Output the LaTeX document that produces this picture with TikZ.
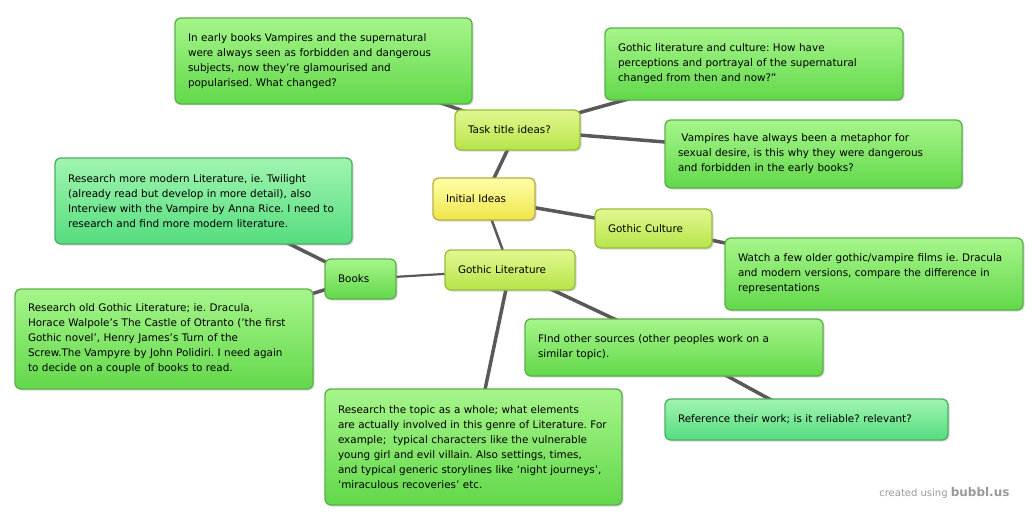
\documentclass[tikz,border=0pt]{standalone}
\usepackage{fontspec}
\setmainfont{DejaVu Sans}
\usetikzlibrary{shadows}
\definecolor{gtop}{HTML}{A6F58A}\definecolor{gbot}{HTML}{62D84A}\definecolor{gbd}{HTML}{5CB04A}
\definecolor{mtop}{HTML}{A0F5B0}\definecolor{mbot}{HTML}{55DC7E}\definecolor{mbd}{HTML}{4CAE66}
\definecolor{ltop}{HTML}{E2F890}\definecolor{lbot}{HTML}{B6E448}\definecolor{lbd}{HTML}{98BC40}
\definecolor{ytop}{HTML}{FFFFA8}\definecolor{ybot}{HTML}{EEE64A}\definecolor{ybd}{HTML}{B8B040}
\begin{document}
\begin{tikzpicture}[x=1pt,y=-1pt,
 box/.style={line width=1.3pt,rounded corners=6pt,align=left,inner sep=0pt,
   font=\fontsize{10.4}{15}\selectfont,drop shadow={shadow xshift=1.5pt,shadow yshift=-1.5pt,opacity=0.3}},
 grn/.style={box,draw=gbd,top color=gtop,bottom color=gbot},
 mint/.style={box,draw=mbd,top color=mtop,bottom color=mbot},
 lgrn/.style={box,draw=lbd,top color=ltop,bottom color=lbot},
 yel/.style={box,draw=ybd,top color=ytop,bottom color=ybot},
 con/.style={draw=black!65,line width=3.5pt}]
\useasboundingbox (0,0) rectangle (1033,516);
\def\bx#1#2#3#4#5#6#7{\node[#1,minimum width=#4-#2,minimum height=#5-#3,text width=#4-#2-26] (#6) at ({(#2+#4)/2},{(#3+#5)/2}) {\frenchspacing #7};}
\coordinate (cI) at (484,199); \coordinate (cT) at (517,130); \coordinate (cTL) at (323,61);
\coordinate (cGC2) at (754,64); \coordinate (cV) at (813,154); \coordinate (cGC) at (653,228);
\coordinate (cW) at (874,274); \coordinate (cGL) at (510,270); \coordinate (cB) at (360,279);
\coordinate (cM) at (203,201); \coordinate (cO) at (164,339); \coordinate (cF) at (674,347);
\coordinate (cR) at (806,419); \coordinate (cRT) at (473,447);
\foreach \a/\b in {cI/cT,cI/cGC,cT/cTL,cT/cGC2,cT/cV,cGC/cW,cGL/cRT,cGL/cF,cB/cM,cB/cO,cF/cR}
  \draw[con] (\a) -- (\b);
\draw[con,line width=2.5pt] (cI) -- (cGL);
\draw[con,line width=2.2pt] (cGL) -- (cB);
\bx{grn}{175}{18}{472}{104}{tl}{In early books Vampires and the supernatural\\were always seen as forbidden and dangerous\\subjects, now they're glamourised and\\popularised. What changed?}
\bx{grn}{605}{28}{903}{100}{gc2}{Gothic literature and culture: How have\\perceptions and portrayal of the supernatural\\changed from then and now?"}
\bx{grn}{665}{120}{962}{188}{vm}{\ Vampires have always been a metaphor for\\sexual desire, is this why they were dangerous\\and forbidden in the early books?}
\bx{lgrn}{455}{110}{580}{150}{task}{Task title ideas?}
\bx{yel}{433}{178}{535}{220}{init}{Initial Ideas}
\bx{lgrn}{595}{209}{712}{248}{gcu}{Gothic Culture}
\bx{grn}{725}{238}{1023}{310}{watch}{Watch a few older gothic/vampire films ie. Dracula\\and modern versions, compare the difference in\\representations}
\bx{lgrn}{445}{250}{575}{290}{glit}{Gothic Literature}
\bx{grn}{325}{259}{396}{299}{books}{Books}
\bx{mint}{55}{158}{352}{244}{mod}{Research more modern Literature, ie. Twilight\\(already read but develop in more detail), also\\Interview with the Vampire by Anna Rice. I need to\\research and find more modern literature.}
\bx{grn}{15}{289}{313}{389}{old}{Research old Gothic Literature; ie. Dracula,\\Horace Walpole's The Castle of Otranto ('the first\\Gothic novel', Henry James's Turn of the\\Screw.The Vampyre by John Polidiri. I need again\\to decide on a couple of books to read.}
\bx{grn}{525}{319}{823}{376}{find}{FInd other sources (other peoples work on a\\similar topic).}
\bx{mint}{665}{399}{948}{440}{ref}{Reference their work; is it reliable? relevant?}
\bx{grn}{325}{389}{622}{505}{rt}{Research the topic as a whole; what elements\\are actually involved in this genre of Literature. For\\example;\ \ typical characters like the vulnerable\\young girl and evil villain. Also settings, times,\\and typical generic storylines like `night journeys',\\`miraculous recoveries' etc.}
\node[anchor=east,text=black!40,font=\fontsize{10}{10}\selectfont] (wm) at (1013,493) {created using \textbf{\fontsize{12}{12}\selectfont bubbl.us}};
\end{tikzpicture}
\end{document}
